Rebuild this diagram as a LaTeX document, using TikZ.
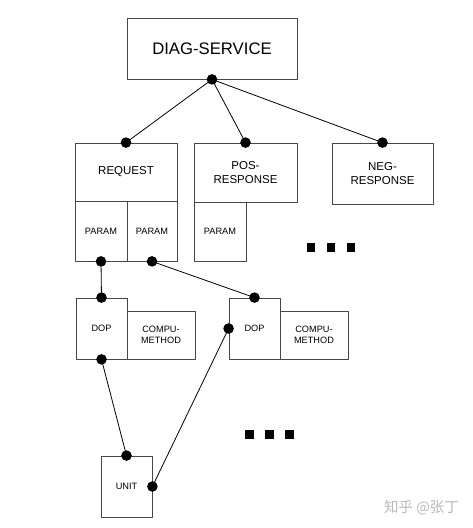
\documentclass[tikz,border=0pt]{standalone}
\usepackage{fontspec}
\setmainfont{Liberation Sans}
\newfontfamily\cjk{Noto Sans CJK SC}
\usepackage{tikz}
\usetikzlibrary{calc, positioning}
\usepackage{xcolor}
\definecolor{boxgray}{RGB}{70, 70, 70}
\definecolor{markgray}{RGB}{185, 185, 185}

\begin{document}
\begin{tikzpicture}[x=1pt, y=-1pt, line cap=round, line join=round,
	box/.style={draw=boxgray, line width=0.8pt, rectangle, inner sep=0pt, align=center},
	big/.style={font=\fontsize{16.7}{19}\selectfont},
	mid/.style={font=\fontsize{11.5}{14.5}\selectfont},
	small/.style={font=\fontsize{9.2}{11}\selectfont},
	link/.style={line width=0.8pt, black}]
	\useasboundingbox (0,0) rectangle (472,528);

	% service and its messages
	\node[box, big, minimum width=170pt, minimum height=61pt] (diag) at (212,48.5) {DIAG-SERVICE};
	\node[box, mid, minimum width=102pt, minimum height=58pt] (req) at (126,172) {REQUEST};
	\node[box, small, minimum width=52pt, minimum height=60pt] (param1) at (101,231) {PARAM};
	\node[box, small, minimum width=50pt, minimum height=60pt] (param2) at (152,231) {PARAM};
	\node[box, mid, minimum width=103pt, minimum height=59pt] (pos) at (245.5,172.5) {POS-\\RESPONSE};
	\node[box, small, minimum width=52pt, minimum height=59pt] (posparam) at (220,231.5) {PARAM};
	\node[box, mid, minimum width=101pt, minimum height=61pt] (neg) at (382.5,173.5) {NEG-\\RESPONSE};

	% data object properties
	\node[box, small, minimum width=51pt, minimum height=61pt] (dop1) at (101.5,328.5) {DOP};
	\node[box, small, minimum width=68pt, minimum height=48pt] (compu1) at (161,335) {COMPU-\\METHOD};
	\node[box, small, minimum width=51pt, minimum height=61pt] (dop2) at (254.5,328.5) {DOP};
	\node[box, small, minimum width=68pt, minimum height=48pt] (compu2) at (314,335) {COMPU-\\METHOD};
	\node[box, small, minimum width=51pt, minimum height=61pt] (unit) at (126.5,486.5) {UNIT};

	% references
	\draw[link] (diag.south) -- (req.north);
	\draw[link] (diag.south) -- (pos.north);
	\draw[link] (diag.south) -- (neg.north);
	\draw[link] (param1.south) -- (dop1.north);
	\draw[link] (param2.south) -- (dop2.north);
	\draw[link] (dop1.south) -- (unit.north);
	\draw[link] (unit.east) -- (dop2.west);
	\foreach \p in {diag.south, req.north, pos.north, neg.north, param1.south, param2.south,
		dop1.north, dop2.north, dop1.south, unit.north, unit.east, dop2.west}
		\fill (\p) circle (5.3pt);

	% more of the same
	\foreach \x in {311, 331, 351}
		\fill (\x-4.25,243.3) rectangle (\x+4.25,251.7);
	\foreach \x in {249.5, 269.5, 289.5}
		\fill (\x-4.5,430) rectangle (\x+4.5,439);

	\node[text=markgray, font=\cjk\fontsize{14.5}{16}\selectfont] (mark) at (421.5,507.5) {知乎 @张丁};
\end{tikzpicture}
\end{document}
